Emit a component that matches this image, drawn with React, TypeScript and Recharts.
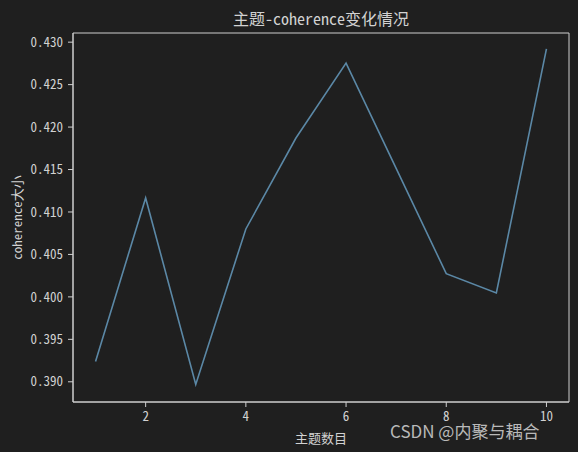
import { LineChart, Line, XAxis, YAxis, ReferenceArea, Label } from 'recharts';

const topicCounts = [1, 2, 3, 4, 5, 6, 7, 8, 9, 10];
const coherence = [0.3924, 0.41165, 0.38968, 0.408, 0.41871, 0.42753, 0.41513, 0.40274, 0.40047, 0.42921];
const xTicks = [2, 4, 6, 8, 10];
const yTicks = [0.39, 0.395, 0.4, 0.405, 0.41, 0.415, 0.42, 0.425, 0.43];

const data = topicCounts.map((k, i) => ({ k, c: coherence[i] }));

const X_DOMAIN: [number, number] = [0.55, 10.45];
const Y_DOMAIN: [number, number] = [0.38762, 0.43108];

const FONT = '"Noto Sans Mono CJK SC", "Liberation Mono", "Noto Sans CJK SC", monospace';
const FG = '#d2d2d2';
const SPINE = '#cfcfcf';

export default function App() {
  return (
    <div style={{ position: 'absolute', left: 0, top: 0, width: 578, height: 452, background: '#1f1f1f', fontFamily: FONT }}>
      <div
        style={{
          position: 'absolute',
          left: 0,
          width: 642,
          top: 6,
          textAlign: 'center',
          color: FG,
          fontSize: 16,
          fontFamily: FONT,
        }}
      >
        主题-coherence变化情况
      </div>
      <LineChart
        width={578}
        height={452}
        data={data}
        margin={{ top: 33, right: 9, bottom: 20, left: 8 }}
        style={{ fontFamily: FONT }}
      >
        <ReferenceArea
          x1={X_DOMAIN[0]}
          x2={X_DOMAIN[1]}
          y1={Y_DOMAIN[0]}
          y2={Y_DOMAIN[1]}
          fill="none"
          stroke={SPINE}
          strokeWidth={1}
          ifOverflow="extendDomain"
        />
        <XAxis
          dataKey="k"
          type="number"
          domain={X_DOMAIN}
          ticks={xTicks}
          allowDataOverflow
          height={30}
          tickSize={5}
          tickMargin={5}
          stroke={SPINE}
          tick={{ fill: FG, fontSize: 13 }}
        >
          <Label value="主题数目" position="insideBottom" offset={-11} fill={FG} fontSize={13} />
        </XAxis>
        <YAxis
          type="number"
          domain={Y_DOMAIN}
          ticks={yTicks}
          allowDataOverflow
          width={65}
          tickSize={5}
          tickMargin={5}
          stroke={SPINE}
          tick={{ fill: FG, fontSize: 13 }}
          tickFormatter={(v: number) => v.toFixed(3)}
        >
          <Label value="coherence大小" angle={-90} position="insideLeft" offset={0} dx={9} fill={FG} fontSize={13} style={{ textAnchor: 'middle' }} />
        </YAxis>
        <Line
          dataKey="c"
          type="linear"
          stroke="#5b88a6"
          strokeWidth={1.6}
          dot={false}
          isAnimationActive={false}
        />
      </LineChart>
      <div
        style={{
          position: 'absolute',
          left: 390,
          top: 418,
          color: '#b9b9b9',
          fontSize: 17,
          fontFamily: '"Noto Sans CJK SC", "Noto Sans", sans-serif',
          whiteSpace: 'nowrap',
        }}
      >
        CSDN @内聚与耦合
      </div>
    </div>
  );
}
